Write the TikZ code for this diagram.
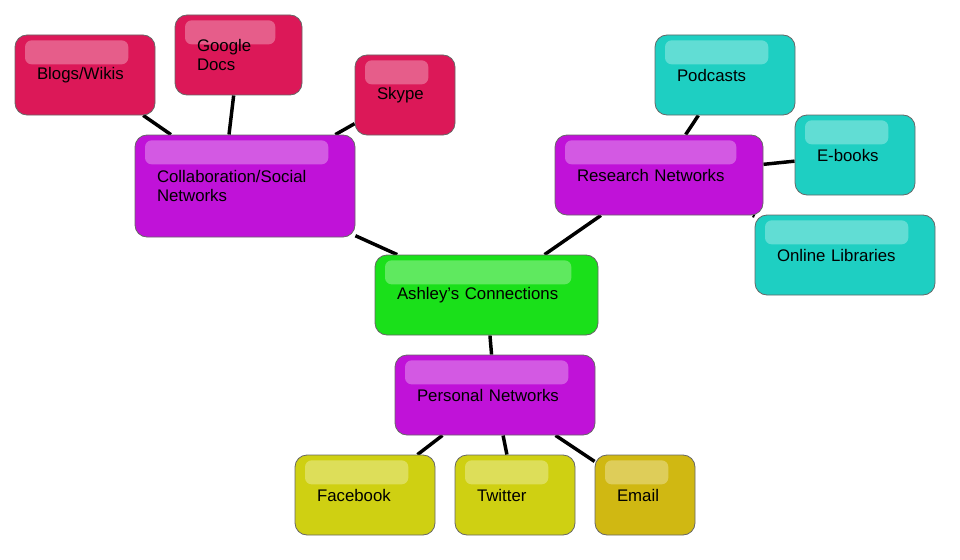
\documentclass[tikz,border=0pt]{standalone}
\usepackage{fontspec}
\setmainfont{Liberation Sans}
\pgfdeclarelayer{bg}
\pgfsetlayers{bg,main}
\definecolor{crim}{HTML}{DC1858}
\definecolor{purp}{HTML}{C012D8}
\definecolor{teal}{HTML}{1ECFC2}
\definecolor{grn}{HTML}{1AE01A}
\definecolor{yel}{HTML}{CFD012}
\definecolor{gold}{HTML}{D0B812}
\tikzset{
  box/.style={draw=black!60, line width=0.6pt, rounded corners=9pt, align=left,
    font=\fontsize{12.6}{14}\selectfont, inner xsep=0pt,
    path picture={\fill[white,opacity=0.3,rounded corners=5pt]
      ([xshift=7.5pt,yshift=-4pt]path picture bounding box.north west) rectangle
      ([xshift=-20pt,yshift=-22pt]path picture bounding box.north east);}},
  link/.style={line width=2.6pt, black}
}
\newcommand{\bx}[8]{% name, color, x1,y1,x2,y2, text, textwidth
  \node[box, fill=#2, minimum width={(#5-#3)*0.75pt}, minimum height={(#6-#4)*0.75pt},
    text width={(#5-#3-44)*0.75pt}] (#1) at ({(#3+#5)/2},{(#4+#6)/2}) {#7};}
\begin{document}
\begin{tikzpicture}[x=0.75pt,y=-0.75pt]
\useasboundingbox (0,0) rectangle (960,560);
\bx{blogs}{crim}{15}{35}{155}{115}{Blogs/Wikis}{}
\bx{gdocs}{crim}{175}{15}{302}{95}{Google Docs}{}
\bx{skype}{crim}{355}{55}{455}{135}{Skype}{}
\bx{collab}{purp}{135}{135}{355}{237}{Collaboration/Social\\Networks}{}
\bx{research}{purp}{555}{135}{763}{215}{Research Networks}{}
\bx{pod}{teal}{655}{35}{795}{115}{Podcasts}{}
\bx{ebooks}{teal}{795}{115}{915}{195}{E-books}{}
\bx{online}{teal}{755}{215}{935}{295}{Online Libraries}{}
\bx{ashley}{grn}{375}{255}{598}{335}{Ashley's Connections}{}
\bx{personal}{purp}{395}{355}{595}{435}{Personal Networks}{}
\bx{fb}{yel}{295}{455}{435}{535}{Facebook}{}
\bx{tw}{yel}{455}{455}{575}{535}{Twitter}{}
\bx{email}{gold}{595}{455}{695}{535}{Email}{}
\begin{pgfonlayer}{bg}
\draw[link] (ashley) -- (collab);
\draw[link] (ashley) -- (research);
\draw[link] (ashley) -- (personal);
\draw[link] (collab) -- (blogs);
\draw[link] (collab.north) ++(-12pt,0) -- (gdocs);
\draw[link] (collab) -- (skype);
\draw[link] (research) -- (pod);
\draw[link] (research) -- (ebooks);
\draw[link] (research) -- (online);
\draw[link] (personal) -- (fb);
\draw[link] (personal) -- (tw);
\draw[link] (personal) -- (email);
\end{pgfonlayer}
\end{tikzpicture}
\end{document}
